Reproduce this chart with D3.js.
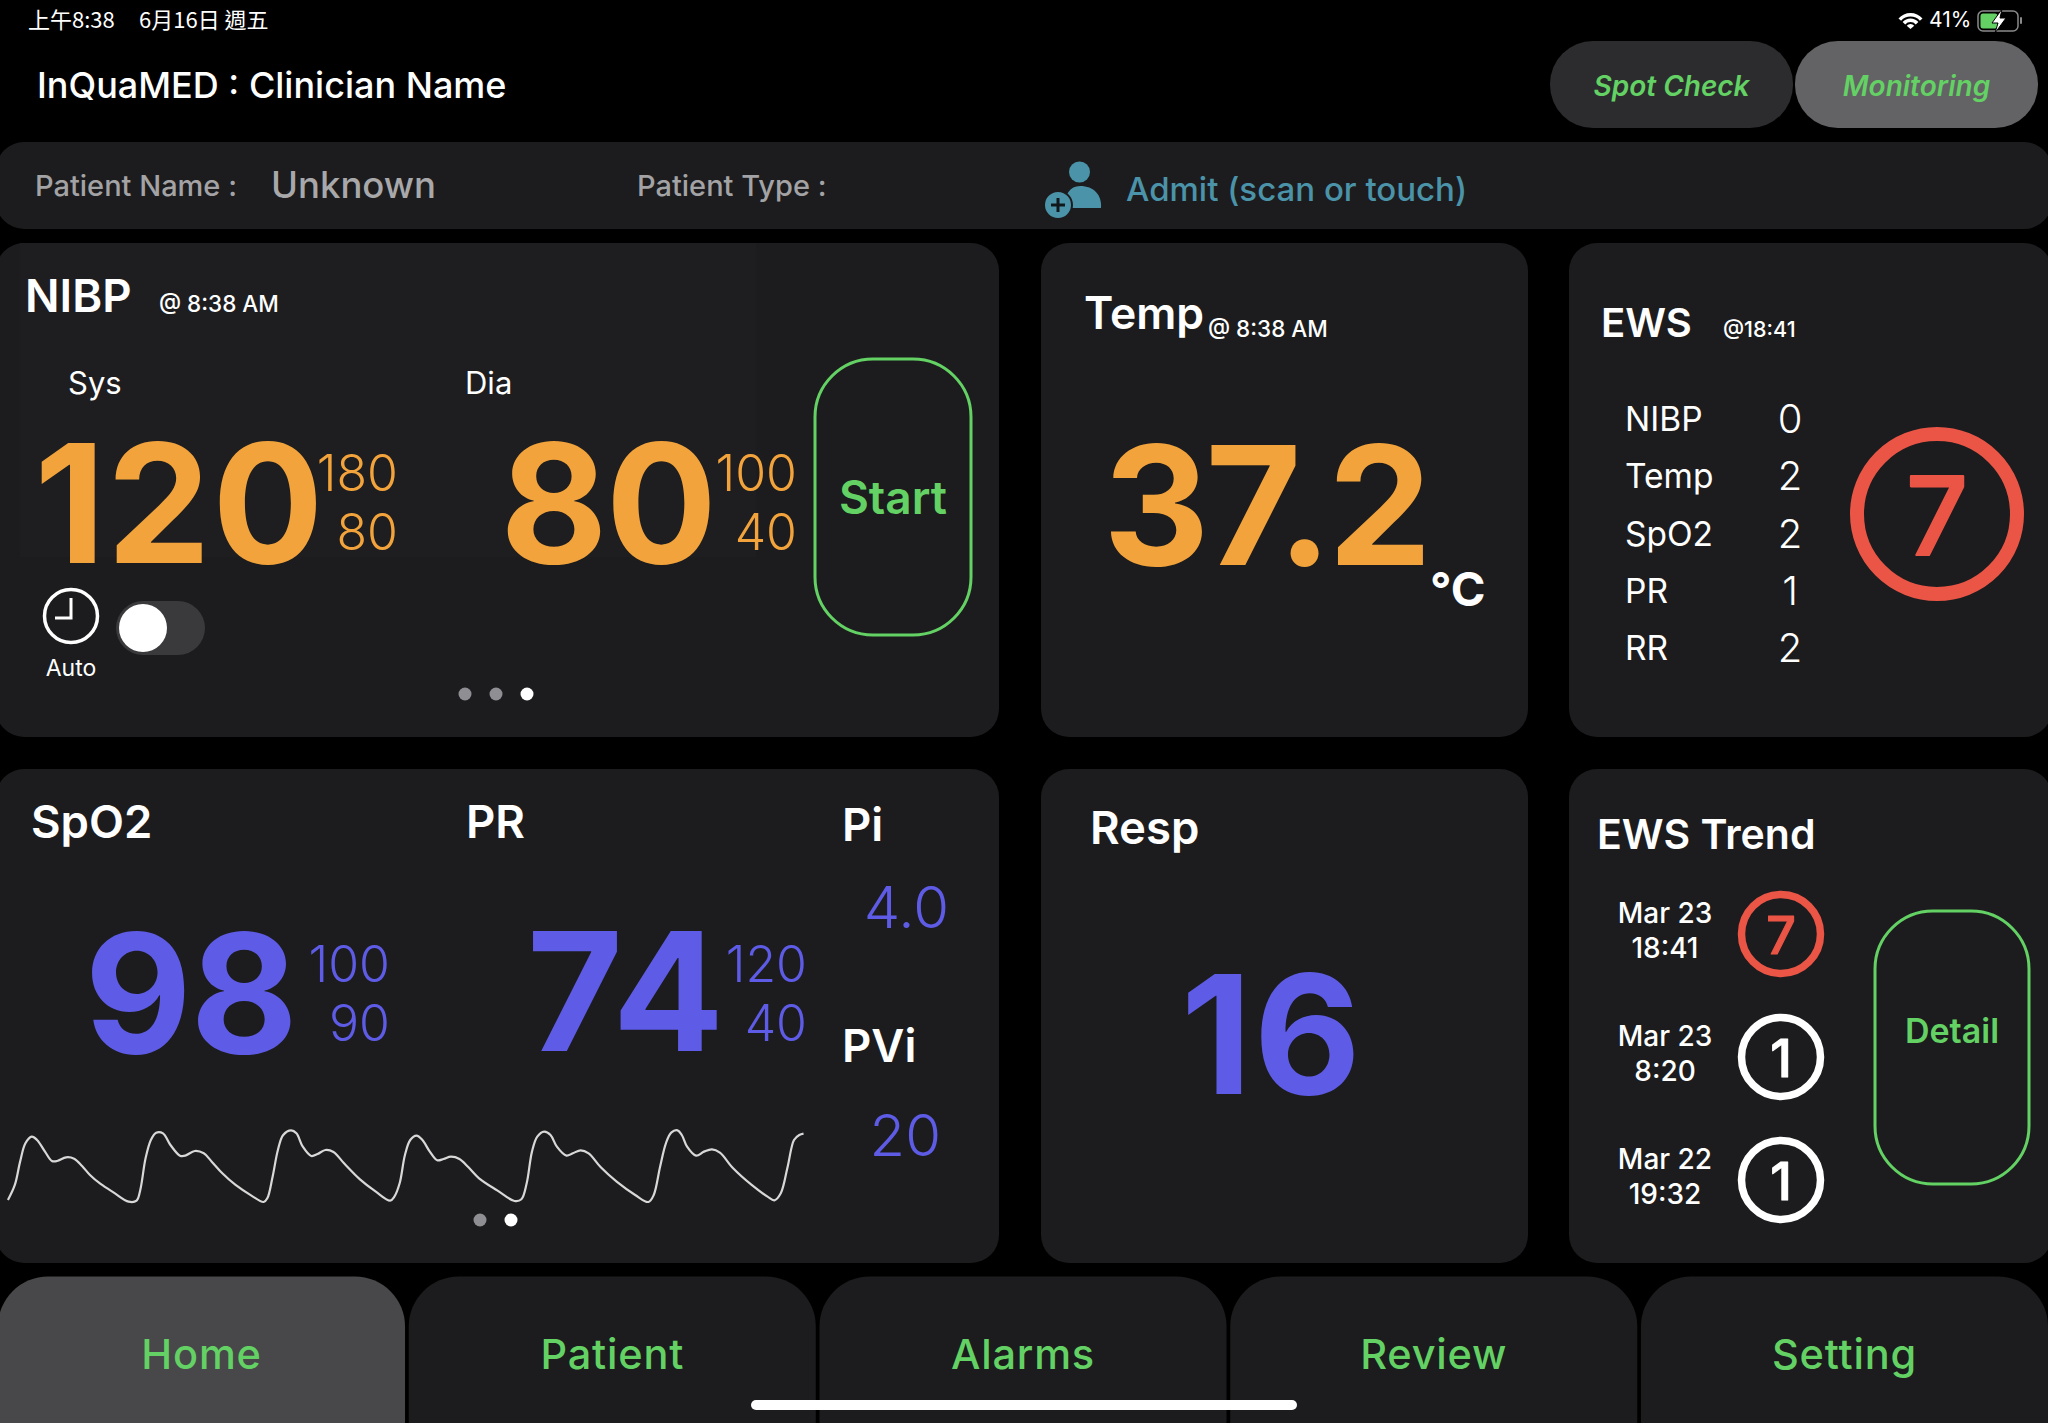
<!DOCTYPE html>
<html>
<head>
<meta charset="utf-8">
<script src="https://cdn.jsdelivr.net/npm/d3@7"></script>
<style>
  html, body { margin: 0; padding: 0; background: #000; overflow: hidden; }
  svg { display: block; }
  text { font-family: Inter, "Noto Sans", sans-serif; }
</style>
</head>
<body>
<div id="chart"></div>
<script>
// values
var navItems = ["Home", "Patient", "Alarms", "Review", "Setting"];
var modes = ["Spot Check", "Monitoring"];

var sysValue = "120", sysLimits = ["180", "80"];
var diaValue = "80", diaLimits = ["100", "40"];
var tempValue = "37.2";
var spo2Value = "98", spo2Limits = ["100", "90"];
var prValue = "74", prLimits = ["120", "40"];
var piValue = "4.0", pviValue = "20", respValue = "16";

var ewsLabels = ["NIBP", "Temp", "SpO2", "PR", "RR"];
var ewsValues = [0, 2, 2, 1, 2];
var ewsTotal = 7;

var trendDates = ["Mar 23", "Mar 23", "Mar 22"];
var trendTimes = ["18:41", "8:20", "19:32"];
var trendScores = [7, 1, 1];

// pleth trace: sample position and amplitude
var waveT = [15,28,38,48,60,70,85,98,108,125,140,155,170,190,215,243,258,265,275,285,295,308,322,340,350,368,385,400,420,445,475,498,505,515,525,535,550,560,572,588,600,615,630,650,680,710,737,745,755,765,775,787,798,812,826,838,852,868,885,905,940,972,985,995,1005,1015,1028,1040,1052,1070,1082,1097,1112,1135,1165,1200,1225,1235,1247,1258,1268,1280,1288,1298,1315,1330,1345,1360,1385,1420,1450,1463,1475,1488,1500,1510,1518];
var waveV = [10,55,125,180,200,190,155,127,127,138,134,112,85,58,32,5,8,40,135,190,212,210,175,143,143,157,150,125,90,55,23,4,15,80,160,205,219,210,170,142,148,160,154,120,72,35,8,20,60,145,190,203,190,155,129,133,140,133,108,75,38,7,12,60,155,200,215,205,170,143,150,159,150,108,65,25,4,25,110,180,212,219,205,170,143,155,162,152,105,55,20,9,30,110,190,205,209];

var WIDTH = 2048, HEIGHT = 1423;
var PANEL = "#1c1c1e", GREEN = "#63d163", ORANGE = "#f2a33b", INDIGO = "#5e5ce6",
    RED = "#eb5545", TEAL = "#4b93a8", WHITE = "#ffffff", GREY = "#a3a3a5";

var svg = d3.select("#chart").append("svg")
    .attr("width", WIDTH).attr("height", HEIGHT)
    .style("background", "#000");

// small helpers so the layout below stays readable
function label(x, y, str, size, weight, fill, anchor, spacing) {
    return svg.append("text")
        .attr("x", x).attr("y", y)
        .attr("font-size", size).attr("font-weight", weight)
        .attr("fill", fill).attr("text-anchor", anchor || "start")
        .attr("letter-spacing", spacing || 0)
        .text(str);
}
function panel(x, y, w, h, r, fill) {
    return svg.append("rect")
        .attr("x", x).attr("y", y).attr("width", w).attr("height", h)
        .attr("rx", r).attr("ry", r).attr("fill", fill || PANEL);
}
function outlineButton(x, y, w, h, str, size, textY) {
    svg.append("rect")
        .attr("x", x).attr("y", y).attr("width", w).attr("height", h)
        .attr("rx", 58).attr("ry", 58)
        .attr("fill", "none").attr("stroke", GREEN).attr("stroke-width", 3);
    label(x + w / 2, textY, str, size, 600, GREEN, "middle");
}
function pageDots(xs, y, active) {
    svg.selectAll(null).data(xs).enter().append("circle")
        .attr("cx", function(d) { return d; })
        .attr("cy", y).attr("r", 6.5)
        .attr("fill", function(d, i) { return i === active ? WHITE : "#8e8e93"; });
}
function bigNumber(rightX, y, str, fill, spacing) {
    return label(rightX, y, str, 165, 700, fill, "end", spacing);
}
function limits(rightX, y1, y2, vals, fill) {
    label(rightX, y1, vals[0], 50, 300, fill, "end");
    label(rightX, y2, vals[1], 50, 300, fill, "end");
}

// status bar
label(28, 28, "上午8:38", 22, 400, WHITE).style("font-family", "'Noto Sans CJK TC'");
label(139, 28, "6月16日 週五", 22, 400, WHITE).style("font-family", "'Noto Sans CJK TC'");
label(1929, 27, "41%", 21, 400, WHITE);

var wifi = svg.append("g").attr("transform", "translate(1910.5,29)");
[[16, 12.5], [10.5, 7], [5, 0]].forEach(function(r) {
    wifi.append("path")
        .attr("d", d3.arc()({ innerRadius: r[1], outerRadius: r[0], startAngle: -0.85, endAngle: 0.85 }))
        .attr("fill", WHITE);
});

svg.append("rect").attr("x", 1978).attr("y", 11).attr("width", 40).attr("height", 20)
    .attr("rx", 5).attr("fill", "none").attr("stroke", "#8a8a8a").attr("stroke-width", 1.5);
svg.append("rect").attr("x", 1980.5).attr("y", 13.5).attr("width", 17).attr("height", 15)
    .attr("rx", 2.5).attr("fill", GREEN);
svg.append("rect").attr("x", 2020).attr("y", 17).attr("width", 2).attr("height", 7)
    .attr("rx", 1).attr("fill", "#8a8a8a");
svg.append("path").attr("d", "M2002 9 L1992 23 L1998 23 L1995 33 L2006 18 L2000 18 Z")
    .attr("fill", WHITE).attr("stroke", "#000").attr("stroke-width", 1);

// header
label(37, 98, "InQuaMED : Clinician Name", 36, 500, WHITE);

var modeX = d3.scaleBand().domain(modes).range([1550, 2038]).paddingInner(0.008);
modes.forEach(function(m, i) {
    panel(modeX(m), 41, modeX.bandwidth(), 87, 43, i === 0 ? "#2c2c2e" : "#636366");
    label(modeX(m) + modeX.bandwidth() / 2, 96, m, 28, 600, GREEN, "middle")
        .attr("font-style", "italic");
});

// patient strip
panel(-4, 142, 2056, 87, 28);
label(35, 196, "Patient Name :", 29, 500, GREY);
label(271, 198, "Unknown", 36.5, 500, "#a8a8aa");
label(637, 196, "Patient Type :", 29, 500, GREY);

var person = svg.append("g").attr("fill", TEAL);
person.append("circle").attr("cx", 1079.5).attr("cy", 172).attr("r", 10.5);
person.append("path").attr("d", "M1064 208 C1064 195 1070 186 1080 186 C1094 186 1102 195 1101 208 Z");
person.append("circle").attr("cx", 1058).attr("cy", 205).attr("r", 14)
    .attr("stroke", PANEL).attr("stroke-width", 2);
person.append("path").attr("d", "M1051 205 H1065 M1058 198 V212")
    .attr("stroke", "#10181c").attr("stroke-width", 3).attr("fill", "none");
label(1126, 201, "Admit (scan or touch)", 33, 500, TEAL);

// NIBP panel
panel(-4, 243, 1003, 494, 28);
svg.append("rect").attr("x", 20).attr("y", 243).attr("width", 736).attr("height", 314).attr("fill", "#1e1e20");
label(25, 312, "NIBP", 45.5, 600, WHITE);
label(159, 312, "@ 8:38 AM", 22.5, 500, WHITE);
label(68, 394, "Sys", 31, 400, WHITE);
label(465, 394, "Dia", 31, 400, WHITE);
bigNumber(325, 563, sysValue, ORANGE, 1.5);
bigNumber(715, 563, diaValue, ORANGE, -2);
limits(398, 491, 550, sysLimits, ORANGE);
limits(797, 491, 550, diaLimits, ORANGE);
outlineButton(815, 359, 156, 276, "Start", 46, 514);

svg.append("circle").attr("cx", 71).attr("cy", 616).attr("r", 26.5)
    .attr("fill", "none").attr("stroke", WHITE).attr("stroke-width", 3.5);
svg.append("path").attr("d", "M71 598 V618 H55")
    .attr("fill", "none").attr("stroke", WHITE).attr("stroke-width", 3);
panel(116, 601, 89, 54, 27, "#3a3a3c");
svg.append("circle").attr("cx", 143).attr("cy", 628).attr("r", 24).attr("fill", WHITE);
label(71, 676, "Auto", 23, 400, WHITE, "middle");
pageDots([465, 496, 527], 694, 2);

// Temp panel
panel(1041, 243, 487, 494, 28);
label(1084, 329, "Temp", 44.5, 600, WHITE);
label(1208, 337, "@ 8:38 AM", 22.5, 500, WHITE);
bigNumber(1428, 565, tempValue, ORANGE, -4);
label(1430, 606, "°C", 47, 700, WHITE);

// EWS panel
panel(1569, 243, 483, 494, 28);
label(1601, 337, "EWS", 40, 600, WHITE);
label(1723, 337, "@18:41", 21.5, 500, WHITE);

var ewsY = d3.scalePoint().domain(ewsLabels).range([431, 660]);
svg.selectAll(null).data(ewsLabels).enter().append("text")
    .attr("x", 1625)
    .attr("y", function(d) { return ewsY(d); })
    .attr("font-size", 33.5).attr("fill", WHITE)
    .text(function(d) { return d; });
svg.selectAll(null).data(ewsValues).enter().append("text")
    .attr("x", 1790)
    .attr("y", function(d, i) { return ewsY(ewsLabels[i]) + 2; })
    .attr("font-size", 40).attr("font-weight", 300).attr("text-anchor", "middle").attr("fill", WHITE)
    .text(function(d) { return d; });

function scoreRing(cx, cy, r, sw, score, colour, size, dy) {
    svg.append("circle").attr("cx", cx).attr("cy", cy).attr("r", r)
        .attr("fill", "none").attr("stroke", colour).attr("stroke-width", sw);
    label(cx, cy + dy, score, size, 500, colour, "middle")
        .attr("stroke", colour).attr("stroke-width", size / 50).attr("stroke-linejoin", "round");
}
scoreRing(1937, 514, 80, 14, ewsTotal, RED, 108, 41);

// SpO2 / PR panel
panel(-4, 769, 1003, 494, 28);
label(31, 838, "SpO2", 45.5, 600, WHITE);
label(466, 838, "PR", 45.5, 600, WHITE);
label(842, 841, "Pi", 45.5, 600, WHITE);
label(842, 1062, "PVi", 45.5, 600, WHITE);
bigNumber(297, 1053, spo2Value, INDIGO, -1);
bigNumber(723, 1051, prValue, INDIGO, -1);
limits(390, 982, 1041, spo2Limits, INDIGO);
limits(807, 982, 1041, prLimits, INDIGO);
label(949, 928, piValue, 58, 300, INDIGO, "end");
label(941, 1156, pviValue, 58, 300, INDIGO, "end");

var waveX = d3.scaleLinear().domain([0, 1568]).range([0, 830]);
var waveY = d3.scaleLinear().domain([0, 370]).range([1203.3, 1080]);
var waveLine = d3.line()
    .x(function(d) { return waveX(d); })
    .y(function(d, i) { return waveY(waveV[i]); })
    .curve(d3.curveCatmullRom);
svg.append("path").attr("d", waveLine(waveT))
    .attr("fill", "none").attr("stroke", "#d8d8d8").attr("stroke-width", 2.2);
pageDots([480, 511], 1220, 1);

// Resp panel
panel(1041, 769, 487, 494, 28);
label(1090, 844, "Resp", 45.5, 600, WHITE);
bigNumber(1363, 1094, respValue, INDIGO, 2);

// EWS trend panel
panel(1569, 769, 483, 494, 28);
label(1597, 849, "EWS Trend", 41, 600, WHITE);

var trendY = d3.scalePoint().domain(d3.range(trendScores.length)).range([934, 1180]);
trendScores.forEach(function(score, i) {
    var cy = trendY(i);
    label(1665, cy - 11, trendDates[i], 28, 500, WHITE, "middle");
    label(1665, cy + 24, trendTimes[i], 28, 500, WHITE, "middle");
    scoreRing(1781, cy, 39.5, 7.5, score, score > 3 ? RED : WHITE, 52, 20);
});
outlineButton(1875, 911, 154, 273, "Detail", 34, 1043);

// bottom tabs
var navX = d3.scaleBand().domain(navItems).range([-2, 2048]).paddingInner(0.009);
navItems.forEach(function(item, i) {
    panel(navX(item), 1276.5, navX.bandwidth(), 200, 50, i === 0 ? "#48484a" : PANEL);
    label(navX(item) + navX.bandwidth() / 2, 1369, item, 41.5, 500, GREEN, "middle", 0.8);
});

// home indicator
panel(751, 1400, 546, 10, 5, WHITE);
</script>
</body>
</html>
